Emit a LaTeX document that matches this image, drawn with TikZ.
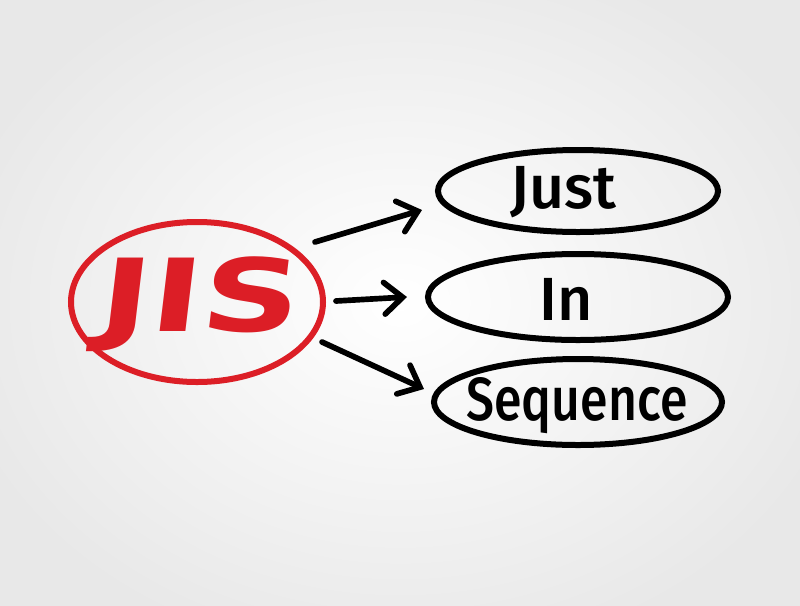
\documentclass[tikz,border=0pt]{standalone}
\usepackage{fontspec}
\setmainfont{DejaVu Sans}
\newfontfamily\lblfont{Fira Sans}[UprightFont={* Medium},BoldFont={* SemiBold}]
\usetikzlibrary{shapes.geometric,arrows.meta}
\definecolor{jisred}{HTML}{DC1E26}
\begin{document}
\begin{tikzpicture}[x=0.03cm,y=-0.03cm,
  oval/.style={ellipse,draw=black,line width=0.18cm,inner sep=0pt},
  redoval/.style={ellipse,draw=jisred,line width=0.18cm,inner sep=0pt},
  arr/.style={line width=0.17cm,line cap=round,-{Straight Barb[length=0.55cm,width=0.95cm,line cap=round]}},
  lbl/.style={inner sep=0pt,font=\fontsize{52}{52}\lblfont\selectfont}
]
\useasboundingbox (0,0) rectangle (800,605);
\shade[inner color=white,outer color=black!9] (-60,-60) rectangle (860,665);
% red oval
\node[redoval,minimum width=7.56cm,minimum height=4.8cm] (jis) at (197,302) {};
\node[inner sep=0pt,text=jisred,font=\fontsize{86}{86}\bfseries\selectfont,xslant=0.12,transform shape] (jist) at (200,304) {\scalebox{1.36}[1]{JIS}};
% right ovals
\node[oval,minimum width=8.4cm,minimum height=2.46cm] (just) at (578,191) {};
\node[lbl] (justt) at (563,192) {Just};
\node[oval,minimum width=9.0cm,minimum height=2.58cm] (in) at (578,297) {};
\node[lbl] (int) at (566,299) {In};
\node[oval,minimum width=8.64cm,minimum height=2.58cm] (seq) at (578,402) {};
\node[lbl] (seqt) at (577,406) {\scalebox{0.82}[1]{Sequence}};
% arrow ends
\coordinate (s1) at (315,242);
\coordinate (e1) at (422,210);
\coordinate (s2) at (336,301);
\coordinate (e2) at (407,297);
\coordinate (s3) at (322,342);
\coordinate (e3) at (424,389);
\draw[arr] (s1) -- (e1);
\draw[arr] (s2) -- (e2);
\draw[arr] (s3) -- (e3);
\end{tikzpicture}
\end{document}
